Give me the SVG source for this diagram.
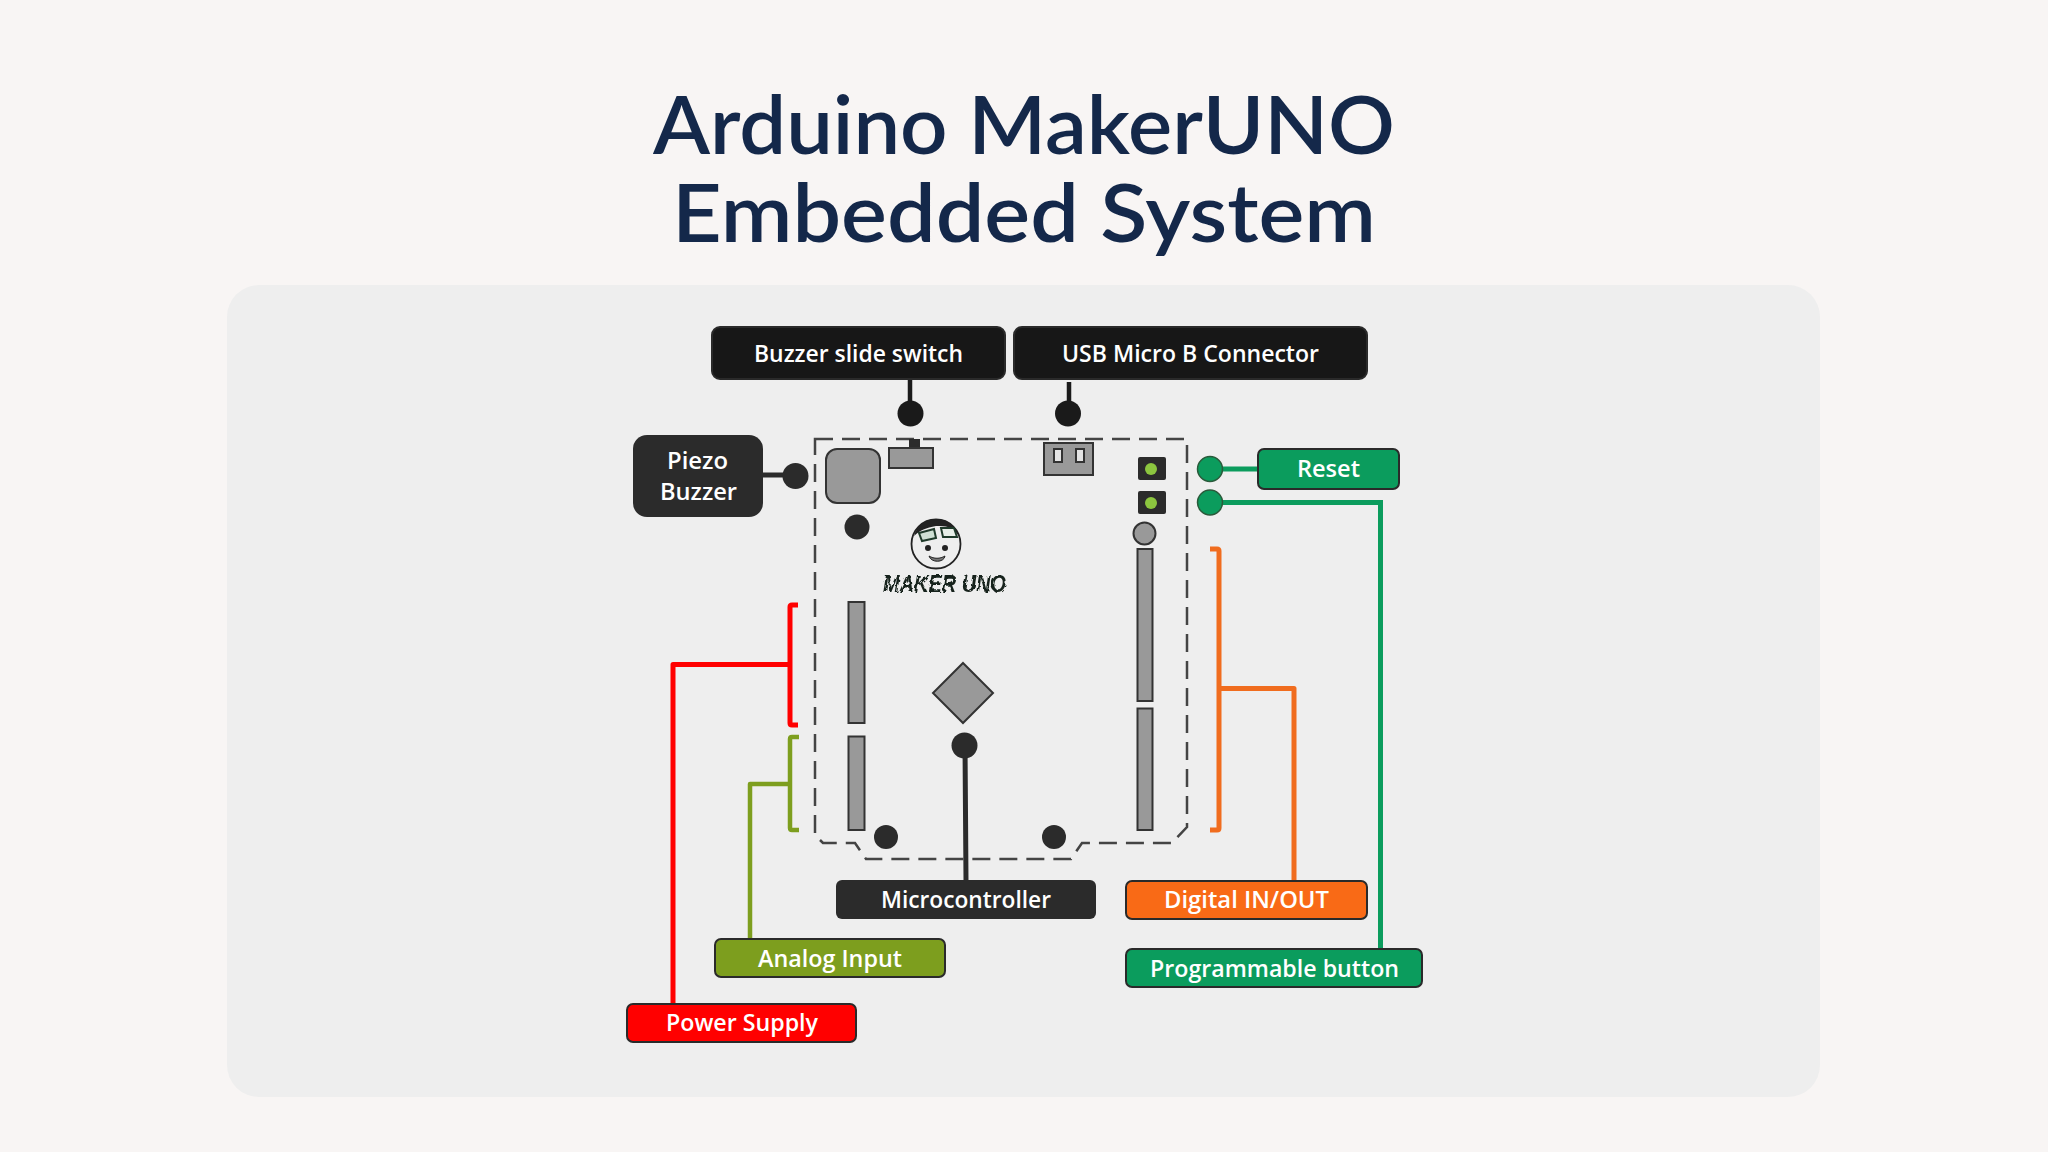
<svg xmlns="http://www.w3.org/2000/svg" width="2048" height="1152" viewBox="0 0 2048 1152">
<style>
.title{font-family:"Lato","Noto Sans",sans-serif;font-weight:600;font-size:80px;fill:#14284a}
.lbl{font-family:"Open Sans","Noto Sans",sans-serif;font-weight:600;font-size:24px;fill:#fff}
.box{stroke:#2a2a2a;stroke-width:2}
.part{fill:#999;stroke:#333;stroke-width:2}
.hole{fill:#2b2b2b}
.wire{fill:none;stroke-linejoin:round}
.btn{fill:#2b2b2b}
.led{fill:#8cc63f}
</style>
<defs>
<filter id="rough" x="-10%" y="-20%" width="120%" height="140%">
<feTurbulence type="fractalNoise" baseFrequency="0.2" numOctaves="2" seed="7"/>
<feDisplacementMap in="SourceGraphic" scale="4"/>
</filter>
</defs>
<rect width="2048" height="1152" fill="#f8f5f4"/>
<rect x="227" y="285" width="1593" height="812" rx="32" fill="#eeeeee"/>
<text class="title" x="653" y="154" textLength="742" lengthAdjust="spacingAndGlyphs">Arduino MakerUNO</text>
<text class="title" x="672" y="242" textLength="704" lengthAdjust="spacingAndGlyphs">Embedded System</text>

<g id="board">
<path d="M815 439H1187V827L1172 843H1082L1071 859H866L855 843H823L815 835Z" fill="none" stroke="#444" stroke-width="2.5" stroke-dasharray="18 9"/>
<rect class="part" x="826" y="449" width="54" height="54" rx="11"/>
<rect x="909" y="439" width="11" height="9" fill="#2b2b2b"/>
<rect class="part" x="889" y="448" width="44" height="20"/>
<rect class="part" x="1044" y="443" width="49" height="32"/>
<rect x="1054" y="449" width="8" height="13" fill="#e4e4e4" stroke="#333" stroke-width="2"/>
<rect x="1076" y="449" width="8" height="13" fill="#e4e4e4" stroke="#333" stroke-width="2"/>
<rect class="btn" x="1138" y="457" width="28" height="23" rx="2"/>
<circle class="led" cx="1151" cy="469" r="6"/>
<rect class="btn" x="1138" y="491" width="28" height="23" rx="2"/>
<circle class="led" cx="1151" cy="503" r="6"/>
<circle class="part" cx="1144.500" cy="533.500" r="11"/>
<rect class="part" x="1137.500" y="549" width="15" height="152"/>
<rect class="part" x="1137.500" y="708.500" width="15" height="121.500"/>
<rect class="part" x="848.500" y="602" width="16" height="121"/>
<rect class="part" x="848.500" y="736.500" width="16" height="93.500"/>
<path class="part" d="M963 663L993 693L963 723L933 693Z"/>
<circle class="hole" cx="857" cy="527" r="12.500"/>
<circle class="hole" cx="886" cy="837" r="12"/>
<circle class="hole" cx="1054" cy="837" r="12"/>
</g>

<g id="logo">
<circle cx="936" cy="544" r="24.500" fill="#eeeeee" stroke="#222" stroke-width="1.800"/>
<path d="M914 536C917 525 926 519 936 519C946 519 956 525 959 536C952 526 946 526 936 526C926 528 920 530 914 536Z" fill="#222"/>
<path d="M919 533L934 529L936 538L922 541Z" fill="#cfe0d4" stroke="#1f3a2a" stroke-width="2"/>
<path d="M941 528H954L957 537H943Z" fill="#e8efe9" stroke="#1f3a2a" stroke-width="2"/>
<circle cx="928" cy="548" r="3" fill="#222"/>
<circle cx="945" cy="548" r="3" fill="#222"/>
<path d="M929 556C934 559 940 559 945 556C944 563 931 563 929 556Z" fill="#777" stroke="#222" stroke-width="1"/>
<text x="883" y="592" font-family="'Liberation Sans',sans-serif" font-size="24" font-weight="700" font-style="italic" fill="#17231c" filter="url(#rough)" textLength="123" lengthAdjust="spacingAndGlyphs">MAKER UNO</text>
</g>

<g id="connectors">
<g fill="#1a1a1a" stroke="#1a1a1a">
<path d="M910 379V413M1069 382V413" stroke-width="4.500" fill="none"/>
<circle cx="910.500" cy="413.500" r="13" stroke="none"/>
<circle cx="1068" cy="413.500" r="13" stroke="none"/>
</g>
<g fill="#2b2b2b" stroke="#2b2b2b">
<path d="M763 475H795M965 745L966 880" stroke-width="5" fill="none"/>
<circle cx="795.500" cy="476" r="13" stroke="none"/>
<circle cx="964.500" cy="745.500" r="13" stroke="none"/>
</g>
<g fill="#0b9c5d" stroke="#0b9c5d">
<path d="M1210 469H1258M1210 502.500H1380.500V948" stroke-width="5" fill="none"/>
<circle cx="1210" cy="469" r="12.500" stroke="#2a5a3a" stroke-width="1.500"/>
<circle cx="1210" cy="502.500" r="12.500" stroke="#2a5a3a" stroke-width="1.500"/>
</g>
<path class="wire" d="M798 605H792Q790 605 790 607V723Q790 725 792 725H798M790 664.500H673V1004" stroke="#ff0000" stroke-width="5"/>
<path class="wire" d="M799 737H792Q790 737 790 739V828Q790 830 792 830H799M790 784H750V938" stroke="#7d9e1e" stroke-width="4.500"/>
<path class="wire" d="M1210 549H1217Q1219 549 1219 551V828Q1219 830 1217 830H1210M1219 688.500H1294V881" stroke="#f06c1e" stroke-width="5"/>
</g>

<g id="buzzer-slide-switch"><rect x="712" y="327" width="293" height="52" rx="8" fill="#171717" class="box"/><text class="lbl" x="754" y="362" textLength="209" lengthAdjust="spacingAndGlyphs">Buzzer slide switch</text></g>
<g id="usb-connector"><rect x="1014" y="327" width="353" height="52" rx="8" fill="#171717" class="box"/><text class="lbl" x="1062" y="362" textLength="257" lengthAdjust="spacingAndGlyphs">USB Micro B Connector</text></g>
<g id="piezo-buzzer"><rect x="633" y="435" width="130" height="82" rx="14" fill="#2b2b2b"/><text class="lbl" x="667" y="469" textLength="61" lengthAdjust="spacingAndGlyphs">Piezo</text><text class="lbl" x="660" y="500" textLength="77" lengthAdjust="spacingAndGlyphs">Buzzer</text></g>
<g id="reset"><rect x="1258" y="449" width="141" height="40" rx="6" fill="#0b9c5d" class="box"/><text class="lbl" x="1297" y="477" textLength="63" lengthAdjust="spacingAndGlyphs">Reset</text></g>
<g id="microcontroller"><rect x="836" y="880" width="260" height="39" rx="6" fill="#2b2b2b"/><text class="lbl" x="881" y="908" textLength="170" lengthAdjust="spacingAndGlyphs">Microcontroller</text></g>
<g id="digital-in-out"><rect x="1126" y="881" width="241" height="38" rx="6" fill="#f96a16" class="box"/><text class="lbl" x="1164" y="908" textLength="165" lengthAdjust="spacingAndGlyphs">Digital IN/OUT</text></g>
<g id="programmable-button"><rect x="1126" y="949" width="296" height="38" rx="6" fill="#0b9c5d" class="box"/><text class="lbl" x="1150" y="977" textLength="249" lengthAdjust="spacingAndGlyphs">Programmable button</text></g>
<g id="analog-input"><rect x="715" y="939" width="230" height="38" rx="6" fill="#7d9e1e" class="box"/><text class="lbl" x="758" y="967" textLength="144" lengthAdjust="spacingAndGlyphs">Analog Input</text></g>
<g id="power-supply"><rect x="627" y="1004" width="229" height="38" rx="6" fill="#ff0000" class="box"/><text class="lbl" x="666" y="1031" textLength="152" lengthAdjust="spacingAndGlyphs">Power Supply</text></g>
</svg>
